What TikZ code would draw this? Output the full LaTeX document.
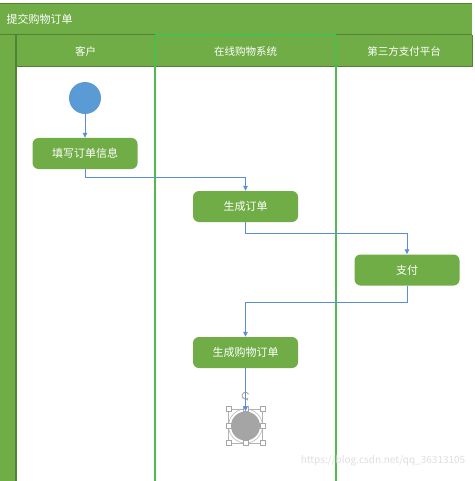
\documentclass[tikz,border=0pt]{standalone}
\usepackage{fontspec}
\newfontfamily\cjk{Noto Sans CJK SC}
\usetikzlibrary{arrows.meta}
\definecolor{lgreen}{HTML}{70AD47}
\definecolor{dgreen}{HTML}{548235}
\definecolor{bgreen}{HTML}{4DBB4D}
\definecolor{flowblue}{HTML}{5B8FD5}
\definecolor{startblue}{HTML}{5B9BD5}
\definecolor{endgray}{HTML}{A5A5A5}
\tikzset{
  act/.style={draw=none, fill=lgreen, rounded corners=6pt, minimum width=105pt, minimum height=31pt, inner sep=0pt, text=white, font=\cjk\fontsize{11}{13}\selectfont},
  startc/.style={circle, fill=startblue, minimum size=32pt, inner sep=0pt},
  endc/.style={circle, fill=endgray, minimum size=29pt, inner sep=0pt},
  flow/.style={draw=flowblue, line width=0.8pt, -{Triangle[length=5pt,width=4.5pt]}},
  hdr/.style={text=white, font=\cjk\fontsize{10.5}{12}\selectfont},
  handle/.style={draw=gray!70, fill=white, line width=0.5pt, minimum size=5pt, inner sep=0pt},
}
\begin{document}
\begin{tikzpicture}[x=1pt,y=-1pt]
\useasboundingbox (0,0) rectangle (474,481);
\fill[white] (0,0) rectangle (474,481);
% title bar
\fill[lgreen] (0,3) rectangle (472,35);
\draw[dgreen, line width=1pt] (0,3.5) -- (472,3.5);
\node[hdr, anchor=west, font=\cjk\fontsize{11}{13}\selectfont] (title) at (3,19) {提交购物订单};
% header row and left strip
\fill[lgreen] (16,35) rectangle (472,67);
\fill[lgreen] (0,35) rectangle (16,481);
\draw[dgreen, line width=1pt] (0,35) -- (472,35);
\draw[dgreen, line width=1pt] (16,67) -- (472,67);
\draw[dgreen, line width=1.2pt] (16,35) -- (16,481);
% lane dividers
\draw[bgreen, line width=1.3pt] (155,35) -- (155,481);
\draw[bgreen, line width=1.3pt] (336,35) -- (336,481);
\draw[bgreen, line width=1.3pt] (155,35) -- (336,35);
\draw[dgreen, line width=0.8pt] (472,35) -- (472,67);
% header labels
\node[hdr] (h1) at (85.5,51) {客户};
\node[hdr] (h2) at (245.5,51) {在线购物系统};
\node[hdr] (h3) at (404,51) {第三方支付平台};
% nodes
\node[startc] (s) at (85,98) {};
\node[act] (n1) at (85,153.5) {填写订单信息};
\node[act] (n2) at (245.5,206.5) {生成订单};
\node[act] (n3) at (407,270) {支付};
\node[act] (n4) at (245.5,352.5) {生成购物订单};
\node[endc] (e) at (245.5,426) {};
% selection decoration of the end node
\draw[gray!60, line width=0.5pt] (e.center) circle (17pt);
\draw[gray!60, line width=0.5pt] (228.5,409) rectangle (262.5,443);
\foreach \hx/\hy in {228.5/409, 245.5/409, 262.5/409, 228.5/426, 262.5/426, 228.5/443, 245.5/443, 262.5/443}
  \node[handle] at (\hx,\hy) {};
\draw[gray!70, line width=0.9pt, -{Stealth[length=2.5pt,width=3pt]}] (248.5,394) arc[start angle=30, end angle=320, radius=3.5pt];
% connectors
\draw[flow] (s) -- (n1);
\draw[flow] (n1.south) -- ++(0,8) -| (n2.north);
\draw[flow] (n2.south) -- ++(0,11) -| (n3.north);
\draw[flow] (n3.south) -- ++(0,17) -| (n4.north);
\draw[flow] (n4.south) -- (e.north);
% watermark
\node[text=gray!25, font=\cjk\fontsize{10}{12}\selectfont] (wm) at (383,461) {https://blog.csdn.net/qq\_36313105};
\end{tikzpicture}
\end{document}
